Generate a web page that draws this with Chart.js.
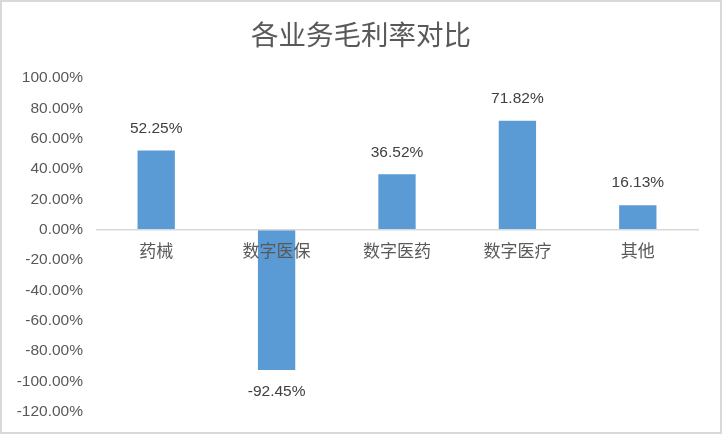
<!DOCTYPE html>
<html>
<head>
<meta charset="utf-8">
<script src="https://cdn.jsdelivr.net/npm/chart.js@4"></script>
<style>
html,body{margin:0;padding:0;background:#fff;}
canvas{display:block;}
</style>
</head>
<body>
<canvas id="c" width="722" height="434"></canvas>
<script>
const titleText = '各业务毛利率对比';
const categories = ['药械', '数字医保', '数字医药', '数字医疗', '其他'];
const margins = [52.25, -92.45, 36.52, 71.82, 16.13];
const yMin = -120, yMax = 100, yStep = 20;

const fmt = v => v.toFixed(2) + '%';

const decor = {
  id: 'decor',
  beforeDraw(chart) {
    const ctx = chart.ctx;
    ctx.save();
    ctx.fillStyle = '#ffffff';
    ctx.fillRect(0, 0, chart.width, chart.height);
    ctx.strokeStyle = '#d9d9d9';
    ctx.lineWidth = 2;
    ctx.strokeRect(1, 1, chart.width - 2, chart.height - 2);
    ctx.fillStyle = '#595959';
    ctx.font = '27.5px "Noto Sans CJK SC"';
    ctx.textAlign = 'center';
    ctx.textBaseline = 'middle';
    ctx.fillText(titleText, 361, 35);
    ctx.restore();
  },
  afterDatasetsDraw(chart) {
    const ctx = chart.ctx;
    const xs = chart.scales.x, ys = chart.scales.y;
    const zeroY = ys.getPixelForValue(0);
    const area = chart.chartArea;
    ctx.save();
    ctx.strokeStyle = '#d9d9d9';
    ctx.lineWidth = 1.5;
    ctx.beginPath();
    ctx.moveTo(area.left, zeroY);
    ctx.lineTo(area.right + 1, zeroY);
    ctx.stroke();
    ctx.fillStyle = '#595959';
    ctx.font = '17px "Noto Sans CJK SC"';
    ctx.textAlign = 'center';
    ctx.textBaseline = 'middle';
    categories.forEach((c, i) => {
      ctx.fillText(c, xs.getPixelForValue(i), zeroY + 21);
    });
    ctx.fillStyle = '#404040';
    ctx.font = '15.5px "Liberation Sans"';
    margins.forEach((v, i) => {
      const x = xs.getPixelForValue(i);
      const y = ys.getPixelForValue(v);
      ctx.fillText(fmt(v), x, v >= 0 ? y - 22 : y + 22);
    });
    ctx.restore();
  }
};

new Chart(document.getElementById('c'), {
  type: 'bar',
  data: {
    labels: categories,
    datasets: [{
      data: margins,
      backgroundColor: '#5b9bd5',
      borderWidth: 0,
      barPercentage: 0.62,
      categoryPercentage: 0.5
    }]
  },
  options: {
    responsive: false,
    animation: false,
    devicePixelRatio: 1,
    layout: { padding: { left: 0, right: 24, top: 78, bottom: 22 } },
    plugins: { legend: { display: false }, title: { display: false }, tooltip: { enabled: false } },
    scales: {
      x: { display: false },
      y: {
        min: yMin, max: yMax,
        grid: { display: false, drawTicks: false },
        border: { display: false },
        ticks: {
          stepSize: yStep,
          padding: 13,
          color: '#595959',
          font: { family: 'Liberation Sans', size: 15.5 },
          callback: v => fmt(v)
        },
        afterFit(scale) { scale.width = 96; }
      }
    }
  },
  plugins: [decor]
});
</script>
</body>
</html>
